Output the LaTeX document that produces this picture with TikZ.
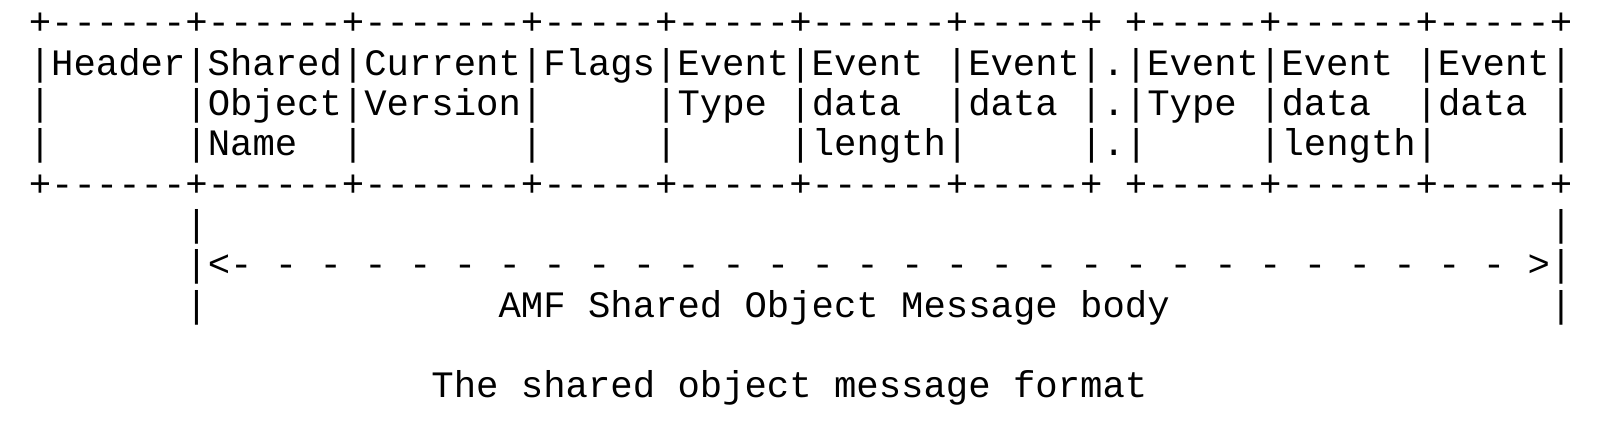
\documentclass[tikz,border=0pt]{standalone}
\usepackage{fontspec}
\setmonofont{Liberation Mono}
\begin{document}
\begin{tikzpicture}[x=0.5pt,y=-0.5pt,
  txt/.style={inner sep=0pt, outer sep=0pt, anchor=base west, text=black,
    font=\ttfamily\fontsize{18.64}{22}\selectfont}]
\useasboundingbox (0,0) rectangle (1606,420);
% columns: x(c) = 28.8 + 22.37 c ; rows: baseline y(n) = 34.65 + 40.35 n
\node[txt] (r0) at (28.8,34.65) {+------+------+-------+-----+-----+------+-----+~+-----+------+-----+};
\node[txt] (r1) at (28.8,75.0) {|Header|Shared|Current|Flags|Event|Event~|Event|.|Event|Event~|Event|};
\node[txt] (r2) at (28.8,115.35) {|~~~~~~|Object|Version|~~~~~|Type~|data~~|data~|.|Type~|data~~|data~|};
\node[txt] (r3) at (28.8,155.7) {|~~~~~~|Name~~|~~~~~~~|~~~~~|~~~~~|length|~~~~~|.|~~~~~|length|~~~~~|};
\node[txt] (r4) at (28.8,196.05) {+------+------+-------+-----+-----+------+-----+~+-----+------+-----+};
\node[txt] (r5a) at (185.39,236.4) {|};
\node[txt] (r5b) at (1549.96,236.4) {|};
\node[txt] (r6) at (185.39,276.75) {|<-~-~-~-~-~-~-~-~-~-~-~-~-~-~-~-~-~-~-~-~-~-~-~-~-~-~-~-~-~>|};
\node[txt] (r7a) at (185.39,317.1) {|};
\node[txt] (r7t) at (498.57,317.1) {AMF Shared Object Message body};
\node[txt] (r7b) at (1549.96,317.1) {|};
\node[txt] (cap) at (431.46,397.8) {The shared object message format};
\end{tikzpicture}
\end{document}
